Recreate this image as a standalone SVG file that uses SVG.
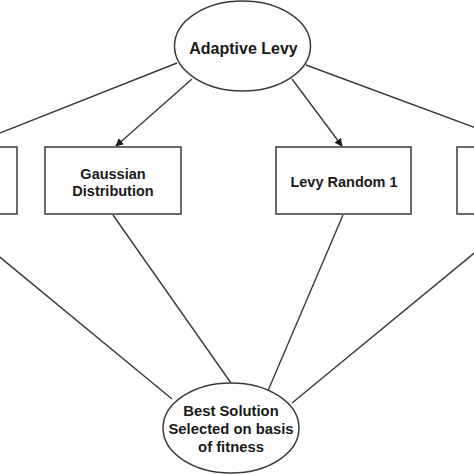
<svg xmlns="http://www.w3.org/2000/svg" width="474" height="474" viewBox="0 0 474 474">
<defs>
<style>
.shape{fill:#fff;stroke:#3a3a3a;stroke-width:1.5}
.edge{fill:none;stroke:#3a3a3a;stroke-width:1.4}
.lbl{font-family:"Liberation Sans",Arial,sans-serif;font-weight:bold;fill:#1a1a1a;text-anchor:middle}
</style>
<marker id="arr" viewBox="0 0 10 10" refX="9" refY="5" markerWidth="8" markerHeight="8" markerUnits="userSpaceOnUse" orient="auto">
<path d="M0,0 L10,5 L0,10 Z" fill="#1a1a1a"/>
</marker>
</defs>
<rect width="474" height="474" fill="#fff"/>
<g id="connectors">
<line class="edge" x1="177" y1="63" x2="-30" y2="145"/>
<line class="edge" x1="306" y1="65" x2="500" y2="137"/>
<line class="edge" x1="192" y1="79" x2="116" y2="146" marker-end="url(#arr)"/>
<line class="edge" x1="292" y1="79" x2="342" y2="146" marker-end="url(#arr)"/>
<line class="edge" x1="113" y1="215" x2="231" y2="383"/>
<line class="edge" x1="343" y1="215" x2="267" y2="393"/>
<line class="edge" x1="-10" y1="249" x2="172" y2="399"/>
<line class="edge" x1="484" y1="245" x2="292" y2="403"/>
</g>
<g id="adaptive-levy">
<ellipse class="shape" cx="242.5" cy="46" rx="68" ry="45"/>
<text class="lbl" x="243.5" y="54" font-size="16">Adaptive Levy</text>
</g>
<g id="left-box">
<rect class="shape" x="-20" y="147" width="37" height="67"/>
</g>
<g id="gaussian">
<rect class="shape" x="45" y="147" width="136" height="67"/>
<text class="lbl" x="113" y="179" font-size="14.5">Gaussian</text>
<text class="lbl" x="113" y="196" font-size="14.5">Distribution</text>
</g>
<g id="levy-random-1">
<rect class="shape" x="276" y="147" width="135" height="67"/>
<text class="lbl" x="344" y="187" font-size="14.5">Levy Random 1</text>
</g>
<g id="right-box">
<rect class="shape" x="457" y="147" width="40" height="67"/>
</g>
<g id="best-solution">
<ellipse class="shape" cx="231" cy="428" rx="68" ry="45"/>
<text class="lbl" x="231" y="416" font-size="14.8">Best Solution</text>
<text class="lbl" x="231" y="434" font-size="14.8">Selected on basis</text>
<text class="lbl" x="231" y="452" font-size="14.8">of fitness</text>
</g>
</svg>
